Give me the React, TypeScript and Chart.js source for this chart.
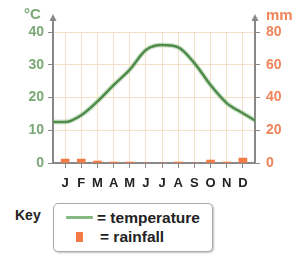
import React, { useEffect, useRef } from "react";
import { Chart, registerables } from "chart.js";

Chart.register(...registerables);

const months = ["J", "F", "M", "A", "M", "J", "J", "A", "S", "O", "N", "D"];
const temperature = [12.5, 14.6, 18.8, 23.8, 28.5, 34.5, 36, 35.3, 30.5, 23.8, 18.3, 15.2];
const tempAtLeftEdge = 12.5;
const tempAtRightEdge = 13.0;
const rainfall = [2.4, 2.4, 1.2, 0.6, 0.6, 0, 0, 0.6, 0, 1.8, 0.6, 3];
const tempTicks = [0, 10, 20, 30, 40];
const rainTicks = [0, 20, 40, 60, 80];

const GREEN = "#4f8b4b";
const GREEN_TEXT = "#7aa874";
const ORANGE = "#f27a45";
const ORANGE_TEXT = "#f0845a";
const AXIS = "#888888";
const GRID = "#f6e0c8";
const FONT = "'Liberation Sans', Arial, sans-serif";

const arrowPlugin = {
  id: "axisArrows",
  afterDraw(chart: any) {
    const ctx = chart.ctx;
    const { top, left, right } = chart.chartArea;
    ctx.save();
    ctx.strokeStyle = AXIS;
    ctx.fillStyle = AXIS;
    ctx.lineWidth = 2;
    [left, right].forEach((x: number) => {
      ctx.beginPath();
      ctx.moveTo(x, top);
      ctx.lineTo(x, 19);
      ctx.stroke();
      ctx.beginPath();
      ctx.moveTo(x - 3.5, 21);
      ctx.lineTo(x, 14);
      ctx.lineTo(x + 3.5, 21);
      ctx.closePath();
      ctx.fill();
    });
    ctx.restore();
  },
};

export default function App() {
  const ref = useRef<HTMLCanvasElement | null>(null);

  useEffect(() => {
    if (!ref.current) return;
    const linePts = [
      { x: -0.75, y: tempAtLeftEdge },
      ...temperature.map((v, i) => ({ x: i, y: v })),
      { x: 11.75, y: tempAtRightEdge },
    ];
    const chart = new Chart(ref.current, {
      type: "line",
      data: {
        datasets: [
          {
            type: "line",
            data: linePts,
            borderColor: "rgba(140,190,130,0.4)",
            borderWidth: 5,
            pointRadius: 0,
            cubicInterpolationMode: "monotone",
            yAxisID: "y",
            order: 3,
          } as any,
          {
            type: "line",
            data: linePts,
            borderColor: GREEN,
            borderWidth: 2.5,
            pointRadius: 0,
            cubicInterpolationMode: "monotone",
            yAxisID: "y",
            order: 2,
          } as any,
          {
            type: "bar",
            data: rainfall.map((v, i) => ({ x: i, y: v })),
            backgroundColor: ORANGE,
            barThickness: 8,
            yAxisID: "y1",
            order: 1,
          } as any,
        ],
      },
      options: {
        responsive: false,
        animation: false,
        layout: { padding: { top: 32, left: 0, right: 0, bottom: 0 } },
        plugins: { legend: { display: false }, tooltip: { enabled: false } },
        scales: {
          x: {
            type: "linear",
            offset: false,
            min: -0.75,
            max: 11.75,
            afterBuildTicks: (scale: any) => {
              scale.ticks = months.map((_, i) => ({ value: i }));
            },
            afterFit: (scale: any) => {
              scale.height = 32;
            },
            ticks: {
              autoSkip: false,
              maxRotation: 0,
              padding: 8,
              color: "#222",
              font: { family: FONT, size: 13, weight: "bold" },
              callback: (v: any) => months[v as number] ?? "",
            },
            grid: { offset: false, color: GRID, tickColor: AXIS, tickLength: 5, lineWidth: 1 },
            border: { color: AXIS, width: 2 },
          },
          y: {
            position: "left",
            min: 0,
            max: 40,
            afterBuildTicks: (scale: any) => {
              scale.ticks = tempTicks.map((v) => ({ value: v }));
            },
            afterFit: (scale: any) => {
              scale.width = 53;
            },
            ticks: {
              padding: 4,
              color: GREEN_TEXT,
              font: { family: FONT, size: 14, weight: "bold" },
            },
            grid: { color: GRID, tickColor: AXIS, tickLength: 5 },
            border: { color: AXIS, width: 2 },
          },
          y1: {
            position: "right",
            min: 0,
            max: 80,
            afterBuildTicks: (scale: any) => {
              scale.ticks = rainTicks.map((v) => ({ value: v }));
            },
            afterFit: (scale: any) => {
              scale.width = 45;
            },
            ticks: {
              padding: 6,
              color: ORANGE_TEXT,
              font: { family: FONT, size: 14, weight: "bold" },
            },
            grid: { drawOnChartArea: false, tickColor: AXIS, tickLength: 5 },
            border: { color: AXIS, width: 2 },
          },
        },
      },
      plugins: [arrowPlugin],
    } as any);
    return () => chart.destroy();
  }, []);

  const txt: React.CSSProperties = {
    position: "absolute",
    fontFamily: FONT,
    fontWeight: "bold",
    whiteSpace: "nowrap",
    lineHeight: "1",
  };

  return (
    <div style={{ position: "absolute", left: 0, top: 0, width: 300, height: 256, background: "#fff", overflow: "hidden" }}>
      <canvas ref={ref} width={300} height={195} style={{ position: "absolute", left: 0, top: 0 }} />
      <div style={{ ...txt, left: 24, top: 6, fontSize: 15, color: GREEN_TEXT }}>°C</div>
      <div style={{ ...txt, left: 266, top: 7, fontSize: 15, color: ORANGE_TEXT }}>mm</div>
      <div style={{ ...txt, left: 15, top: 208, fontSize: 14, color: "#222" }}>Key</div>
      <div
        style={{
          position: "absolute",
          left: 53,
          top: 203,
          width: 158,
          height: 47,
          border: "1px solid #aaa",
          borderRadius: 5,
          boxShadow: "1px 1px 2px rgba(0,0,0,0.25)",
          background: "#fff",
        }}
      >
        <div style={{ position: "absolute", left: 12, top: 12, width: 27, height: 3, background: "#86b882", borderRadius: 1 }} />
        <div style={{ ...txt, left: 43, top: 6, fontSize: 15.5, color: "#222" }}>= temperature</div>
        <div style={{ position: "absolute", left: 22, top: 28, width: 7, height: 10, background: ORANGE }} />
        <div style={{ ...txt, left: 46, top: 25, fontSize: 15.5, color: "#222" }}>= rainfall</div>
      </div>
    </div>
  );
}
